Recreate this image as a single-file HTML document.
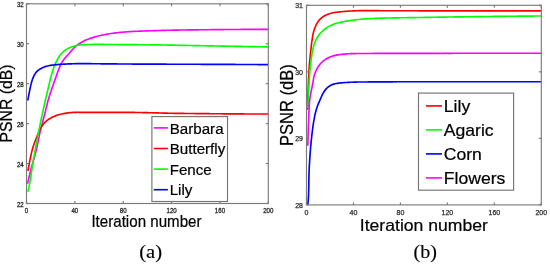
<!DOCTYPE html>
<html><head><meta charset="utf-8"><style>
html,body{margin:0;padding:0;background:#fff;}
svg{display:block;filter:blur(0.3px);}
.tk{font-family:"Liberation Sans",Arial,sans-serif;fill:#2a2a2a;stroke:#2a2a2a;stroke-width:0.3px;}
.tk2{font-family:"Liberation Sans",Arial,sans-serif;fill:#2a2a2a;stroke:#2a2a2a;stroke-width:0.25px;}
.lg{font-family:"Liberation Sans",Arial,sans-serif;fill:#000;stroke:#000;stroke-width:0.2px;}
.al{font-family:"Liberation Sans",Arial,sans-serif;fill:#000;stroke:#000;stroke-width:0.2px;}
.cap{font-family:"Liberation Serif","Times New Roman",serif;fill:#000;stroke:#000;stroke-width:0.15px;}
</style></head><body>
<svg width="550" height="265" viewBox="0 0 550 265">
<rect width="550" height="265" fill="#fff"/>
<defs><clipPath id="cl"><rect x="26.5" y="3.8" width="241.8" height="199.7"/></clipPath><clipPath id="cr"><rect x="306.5" y="5.3" width="234.79999999999995" height="199.6"/></clipPath></defs>
<path d="M27.50,183.80 L27.73,182.78 L28.06,181.35 L28.39,179.90 L28.73,178.44 L29.08,176.98 L29.43,175.53 L29.79,174.07 L30.14,172.62 L30.51,171.16 L30.88,169.71 L31.26,168.26 L31.65,166.81 L32.05,165.37 L32.46,163.93 L32.87,162.48 L33.15,161.52 L33.43,160.56 L33.84,159.12 L34.26,157.68 L34.66,156.24 L35.06,154.79 L35.45,153.34 L35.82,151.89 L36.19,150.44 L36.53,148.98 L36.86,147.52 L37.18,146.06 L37.48,144.59 L37.78,143.12 L38.08,141.65 L38.27,140.67 L38.47,139.69 L38.66,138.71 L38.85,137.73 L39.15,136.26 L39.45,134.79 L39.76,133.32 L40.08,131.86 L40.41,130.40 L40.76,128.94 L41.13,127.49 L41.50,126.04 L41.89,124.59 L42.29,123.15 L42.68,121.70 L43.08,120.25 L43.48,118.81 L43.87,117.36 L44.26,115.91 L44.63,114.46 L44.99,113.01 L45.35,111.55 L45.58,110.57 L45.81,109.60 L46.04,108.63 L46.27,107.65 L46.61,106.20 L46.97,104.74 L47.33,103.28 L47.71,101.84 L48.10,100.39 L48.52,98.95 L48.95,97.52 L49.41,96.09 L49.88,94.67 L50.35,93.25 L50.68,92.30 L51.00,91.35 L51.48,89.93 L51.96,88.51 L52.44,87.09 L52.92,85.67 L53.41,84.26 L53.89,82.84 L54.39,81.42 L54.88,80.01 L55.39,78.60 L55.72,77.65 L56.06,76.71 L56.39,75.76 L56.72,74.82 L57.05,73.87 L57.39,72.92 L57.73,71.98 L58.07,71.03 L58.42,70.10 L58.96,68.70 L59.53,67.32 L60.13,65.95 L60.77,64.61 L61.46,63.28 L61.95,62.41 L62.47,61.55 L63.00,60.70 L63.56,59.87 L64.44,58.66 L65.38,57.51 L66.39,56.41 L67.08,55.68 L67.77,54.96 L68.46,54.22 L69.12,53.47 L69.77,52.71 L70.41,51.95 L71.38,50.80 L72.37,49.68 L73.05,48.94 L73.75,48.22 L74.46,47.51 L75.18,46.83 L76.31,45.85 L77.48,44.93 L78.69,44.06 L79.53,43.50 L80.37,42.96 L81.24,42.43 L82.11,41.93 L82.99,41.44 L83.88,40.98 L85.22,40.33 L86.59,39.73 L87.97,39.18 L89.37,38.66 L90.32,38.33 L91.27,38.01 L92.23,37.71 L93.19,37.42 L94.15,37.13 L95.11,36.85 L96.56,36.46 L98.01,36.07 L99.46,35.71 L100.44,35.48 L101.41,35.25 L102.39,35.04 L103.86,34.73 L105.33,34.45 L106.80,34.18 L108.28,33.94 L109.76,33.70 L111.24,33.48 L112.73,33.27 L114.21,33.08 L115.70,32.89 L117.19,32.70 L118.68,32.53 L120.17,32.37 L121.66,32.22 L123.15,32.09 L124.65,31.98 L126.14,31.87 L127.64,31.76 L129.13,31.67 L130.63,31.58 L132.13,31.50 L133.62,31.42 L135.12,31.34 L136.62,31.27 L138.12,31.21 L139.61,31.15 L141.11,31.09 L142.61,31.03 L144.11,30.98 L145.60,30.92 L147.10,30.87 L148.60,30.82 L150.10,30.78 L151.60,30.73 L153.10,30.69 L154.59,30.64 L156.09,30.60 L157.59,30.55 L159.09,30.51 L160.59,30.47 L162.09,30.43 L163.58,30.38 L165.08,30.34 L166.58,30.30 L168.08,30.27 L169.58,30.23 L171.08,30.20 L172.57,30.17 L174.07,30.14 L175.57,30.11 L177.07,30.08 L178.57,30.06 L180.07,30.04 L181.57,30.01 L183.07,29.99 L184.56,29.97 L186.06,29.95 L187.56,29.94 L189.06,29.92 L190.56,29.90 L192.06,29.88 L193.56,29.87 L195.06,29.85 L196.55,29.84 L198.05,29.82 L199.55,29.80 L201.05,29.79 L202.55,29.77 L204.05,29.76 L205.55,29.74 L207.05,29.73 L208.55,29.71 L210.04,29.70 L211.54,29.68 L213.04,29.67 L214.54,29.65 L216.04,29.64 L217.54,29.62 L219.04,29.61 L220.54,29.59 L222.03,29.58 L223.53,29.57 L225.03,29.55 L226.53,29.54 L228.03,29.53 L229.53,29.52 L231.03,29.51 L232.53,29.49 L234.03,29.48 L235.52,29.48 L237.02,29.47 L238.52,29.46 L240.02,29.45 L241.52,29.44 L243.02,29.44 L244.52,29.43 L246.02,29.42 L247.52,29.41 L249.01,29.41 L250.51,29.40 L252.01,29.40 L253.51,29.39 L255.01,29.38 L256.51,29.38 L258.01,29.37 L259.51,29.37 L261.01,29.36 L262.50,29.36 L264.00,29.36 L265.49,29.35 L266.95,29.35 L268.00,29.35" stroke="#ff00ff" stroke-width="1.65" fill="none" stroke-linejoin="round" clip-path="url(#cl)"/>
<path d="M27.90,171.00 L28.08,169.97 L28.35,168.52 L28.62,167.06 L28.90,165.59 L29.18,164.12 L29.47,162.65 L29.76,161.18 L30.06,159.71 L30.26,158.73 L30.46,157.75 L30.66,156.76 L30.86,155.78 L31.07,154.80 L31.29,153.83 L31.62,152.37 L31.98,150.91 L32.36,149.47 L32.77,148.03 L33.21,146.60 L33.68,145.18 L34.00,144.23 L34.34,143.28 L34.68,142.34 L35.02,141.40 L35.37,140.46 L35.73,139.52 L36.09,138.59 L36.45,137.66 L36.82,136.72 L37.18,135.79 L37.56,134.86 L37.93,133.94 L38.32,133.01 L38.72,132.10 L39.36,130.74 L39.80,129.84 L40.27,128.95 L40.76,128.06 L41.27,127.18 L41.79,126.31 L42.35,125.47 L43.22,124.26 L44.16,123.14 L45.18,122.10 L46.28,121.10 L47.06,120.47 L47.88,119.86 L48.72,119.27 L49.58,118.71 L50.45,118.18 L51.33,117.69 L52.67,117.02 L54.02,116.43 L55.40,115.88 L56.81,115.38 L57.76,115.06 L58.73,114.76 L59.70,114.48 L60.68,114.22 L61.66,113.98 L62.65,113.77 L63.63,113.58 L65.10,113.34 L66.58,113.12 L68.07,112.92 L69.06,112.80 L70.06,112.68 L71.06,112.58 L72.06,112.49 L73.06,112.42 L74.06,112.37 L75.06,112.33 L76.56,112.31 L78.05,112.30 L79.55,112.30 L81.05,112.30 L82.05,112.30 L83.05,112.30 L84.05,112.30 L85.05,112.30 L86.05,112.30 L87.55,112.30 L89.05,112.30 L90.55,112.30 L92.05,112.30 L93.55,112.30 L95.05,112.31 L96.55,112.31 L98.05,112.31 L99.55,112.31 L101.05,112.31 L102.55,112.32 L104.05,112.32 L105.55,112.32 L107.05,112.33 L108.55,112.33 L110.05,112.33 L111.55,112.34 L113.05,112.34 L114.55,112.35 L116.05,112.35 L117.55,112.35 L119.05,112.36 L120.55,112.36 L122.05,112.37 L123.55,112.38 L125.05,112.38 L126.55,112.39 L128.04,112.39 L129.54,112.40 L131.04,112.41 L132.54,112.42 L134.04,112.43 L135.54,112.45 L137.04,112.47 L138.54,112.49 L140.04,112.51 L141.54,112.54 L143.04,112.57 L144.54,112.60 L146.04,112.64 L147.54,112.67 L149.04,112.71 L150.54,112.74 L152.03,112.78 L153.53,112.82 L155.03,112.86 L156.53,112.90 L158.03,112.94 L159.53,112.98 L161.03,113.02 L162.53,113.06 L164.03,113.09 L165.53,113.13 L167.03,113.17 L168.53,113.20 L170.03,113.23 L171.53,113.27 L173.03,113.29 L174.52,113.32 L176.02,113.35 L177.52,113.37 L179.02,113.39 L180.52,113.41 L182.02,113.42 L183.52,113.44 L185.02,113.45 L186.52,113.47 L188.02,113.48 L189.52,113.50 L191.02,113.52 L192.52,113.53 L194.02,113.55 L195.52,113.56 L197.02,113.58 L198.52,113.59 L200.02,113.61 L201.52,113.62 L203.01,113.64 L204.51,113.65 L206.01,113.66 L207.51,113.68 L209.01,113.69 L210.51,113.70 L212.01,113.72 L213.51,113.73 L215.01,113.74 L216.51,113.76 L218.01,113.77 L219.51,113.78 L221.01,113.79 L222.51,113.81 L224.01,113.82 L225.51,113.83 L227.01,113.84 L228.51,113.85 L230.01,113.86 L231.51,113.87 L233.01,113.88 L234.51,113.89 L236.01,113.90 L237.51,113.91 L239.01,113.92 L240.50,113.92 L242.00,113.93 L243.50,113.94 L245.00,113.95 L246.50,113.95 L248.00,113.96 L249.50,113.96 L251.00,113.97 L252.50,113.97 L254.00,113.98 L255.50,113.98 L257.00,113.99 L258.50,113.99 L260.00,113.99 L261.50,114.00 L263.00,114.00 L264.50,114.00 L265.97,114.00 L267.46,114.00 L268.00,114.00" stroke="#ff0000" stroke-width="1.65" fill="none" stroke-linejoin="round" clip-path="url(#cl)"/>
<path d="M27.80,191.70 L28.09,190.69 L28.48,189.28 L28.82,187.83 L29.13,186.37 L29.41,184.90 L29.68,183.43 L29.93,181.95 L30.18,180.47 L30.33,179.48 L30.48,178.50 L30.64,177.51 L30.79,176.52 L30.93,175.53 L31.08,174.54 L31.24,173.55 L31.39,172.56 L31.55,171.57 L31.71,170.58 L31.95,169.10 L32.20,167.62 L32.45,166.14 L32.69,164.66 L32.94,163.19 L33.19,161.71 L33.43,160.23 L33.68,158.75 L33.93,157.27 L34.19,155.79 L34.44,154.31 L34.70,152.84 L34.96,151.36 L35.22,149.88 L35.49,148.41 L35.76,146.93 L36.03,145.46 L36.30,143.98 L36.58,142.51 L36.85,141.04 L37.13,139.56 L37.41,138.09 L37.70,136.62 L37.98,135.15 L38.27,133.67 L38.56,132.20 L38.85,130.73 L39.15,129.26 L39.45,127.79 L39.74,126.32 L40.04,124.85 L40.34,123.38 L40.65,121.92 L40.95,120.45 L41.26,118.98 L41.57,117.51 L41.88,116.05 L42.19,114.58 L42.51,113.11 L42.82,111.65 L43.14,110.18 L43.46,108.72 L43.78,107.25 L44.10,105.79 L44.43,104.32 L44.76,102.86 L45.09,101.40 L45.42,99.93 L45.75,98.47 L46.10,97.01 L46.44,95.55 L46.79,94.10 L47.14,92.64 L47.50,91.18 L47.85,89.72 L48.20,88.27 L48.54,86.81 L48.77,85.83 L48.99,84.86 L49.21,83.88 L49.43,82.90 L49.65,81.93 L49.99,80.47 L50.35,79.01 L50.72,77.56 L50.98,76.60 L51.24,75.63 L51.51,74.66 L51.79,73.70 L52.07,72.74 L52.35,71.77 L52.65,70.82 L52.95,69.86 L53.26,68.91 L53.75,67.49 L54.26,66.09 L54.81,64.70 L55.40,63.33 L55.82,62.42 L56.26,61.52 L56.72,60.63 L57.20,59.75 L57.69,58.88 L58.20,58.02 L58.73,57.16 L59.28,56.32 L59.86,55.51 L60.78,54.33 L61.77,53.22 L62.47,52.50 L63.21,51.81 L63.97,51.14 L64.75,50.51 L65.56,49.92 L66.81,49.11 L68.10,48.40 L69.46,47.75 L70.38,47.35 L71.32,46.98 L72.28,46.66 L73.24,46.36 L74.68,45.99 L76.14,45.67 L77.12,45.47 L78.11,45.30 L79.10,45.13 L80.10,45.00 L81.09,44.88 L82.09,44.79 L83.58,44.69 L85.08,44.63 L86.57,44.57 L88.07,44.52 L89.07,44.50 L90.07,44.47 L91.07,44.45 L92.07,44.44 L93.08,44.42 L94.08,44.41 L95.08,44.41 L96.08,44.40 L97.58,44.40 L99.08,44.41 L100.58,44.42 L102.08,44.43 L103.57,44.44 L105.07,44.46 L106.57,44.47 L108.07,44.48 L109.57,44.50 L111.07,44.51 L112.57,44.52 L114.07,44.53 L115.57,44.54 L117.07,44.55 L118.57,44.56 L120.07,44.57 L121.57,44.58 L123.07,44.59 L124.57,44.60 L126.07,44.61 L127.57,44.62 L129.07,44.63 L130.57,44.64 L132.07,44.65 L133.56,44.66 L135.06,44.67 L136.56,44.68 L138.06,44.69 L139.56,44.70 L141.06,44.72 L142.56,44.73 L144.06,44.74 L145.56,44.76 L147.06,44.77 L148.56,44.79 L150.06,44.80 L151.56,44.82 L153.06,44.84 L154.56,44.85 L156.06,44.87 L157.55,44.90 L159.05,44.92 L160.55,44.94 L162.05,44.97 L163.55,44.99 L165.05,45.02 L166.55,45.04 L168.05,45.07 L169.55,45.10 L171.05,45.13 L172.55,45.16 L174.05,45.18 L175.55,45.21 L177.05,45.24 L178.54,45.28 L180.04,45.31 L181.54,45.34 L183.04,45.37 L184.54,45.40 L186.04,45.43 L187.54,45.46 L189.04,45.49 L190.54,45.52 L192.04,45.55 L193.54,45.58 L195.04,45.61 L196.54,45.64 L198.03,45.66 L199.53,45.69 L201.03,45.72 L202.53,45.75 L204.03,45.77 L205.53,45.80 L207.03,45.83 L208.53,45.85 L210.03,45.88 L211.53,45.91 L213.03,45.93 L214.53,45.96 L216.03,45.99 L217.52,46.01 L219.02,46.04 L220.52,46.06 L222.02,46.09 L223.52,46.12 L225.02,46.14 L226.52,46.17 L228.02,46.20 L229.52,46.22 L231.02,46.25 L232.52,46.28 L234.02,46.30 L235.52,46.33 L237.02,46.36 L238.51,46.38 L240.01,46.41 L241.51,46.44 L243.01,46.46 L244.51,46.49 L246.01,46.51 L247.51,46.54 L249.01,46.57 L250.51,46.59 L252.01,46.62 L253.51,46.65 L255.01,46.67 L256.51,46.70 L258.00,46.73 L259.50,46.75 L261.00,46.78 L262.50,46.80 L264.00,46.83 L265.49,46.86 L266.95,46.88 L268.00,46.90" stroke="#00ff00" stroke-width="1.65" fill="none" stroke-linejoin="round" clip-path="url(#cl)"/>
<path d="M27.70,100.50 L27.90,99.47 L28.17,98.03 L28.46,96.58 L28.75,95.11 L29.04,93.64 L29.34,92.18 L29.64,90.71 L29.93,89.24 L30.23,87.77 L30.55,86.31 L30.88,84.85 L31.25,83.39 L31.51,82.43 L31.78,81.46 L32.08,80.50 L32.39,79.55 L32.91,78.15 L33.49,76.78 L33.92,75.87 L34.39,74.97 L34.90,74.09 L35.45,73.24 L36.34,72.06 L37.35,71.02 L38.49,70.12 L39.75,69.31 L40.62,68.79 L41.50,68.29 L42.37,67.80 L43.70,67.15 L45.09,66.63 L46.53,66.21 L47.51,65.96 L48.49,65.75 L49.48,65.56 L50.47,65.40 L51.95,65.18 L53.43,65.00 L54.92,64.83 L56.41,64.68 L57.40,64.59 L58.40,64.50 L59.40,64.42 L60.40,64.35 L61.40,64.28 L62.39,64.22 L63.89,64.14 L65.39,64.07 L66.88,64.00 L68.38,63.94 L69.87,63.88 L71.37,63.82 L72.87,63.77 L74.36,63.72 L75.86,63.68 L77.36,63.65 L78.86,63.63 L80.35,63.61 L81.85,63.60 L83.35,63.61 L84.84,63.61 L86.34,63.62 L87.84,63.64 L89.34,63.66 L90.83,63.68 L92.33,63.70 L93.83,63.72 L95.32,63.74 L96.82,63.76 L98.32,63.78 L99.82,63.80 L101.31,63.81 L102.81,63.83 L104.31,63.84 L105.80,63.85 L107.30,63.87 L108.80,63.88 L110.30,63.89 L111.79,63.90 L113.29,63.92 L114.79,63.93 L116.28,63.94 L117.78,63.95 L119.28,63.97 L120.78,63.98 L122.27,63.99 L123.77,64.00 L125.27,64.01 L126.76,64.02 L128.26,64.03 L129.76,64.04 L131.26,64.05 L132.75,64.06 L134.25,64.07 L135.75,64.08 L137.24,64.09 L138.74,64.09 L140.24,64.10 L141.74,64.11 L143.23,64.11 L144.73,64.12 L146.23,64.13 L147.73,64.13 L149.22,64.14 L150.72,64.15 L152.22,64.15 L153.71,64.16 L155.21,64.16 L156.71,64.17 L158.21,64.17 L159.70,64.18 L161.20,64.18 L162.70,64.19 L164.19,64.19 L165.69,64.19 L167.19,64.20 L168.69,64.20 L170.18,64.21 L171.68,64.21 L173.18,64.22 L174.67,64.22 L176.17,64.22 L177.67,64.23 L179.17,64.23 L180.66,64.24 L182.16,64.24 L183.66,64.25 L185.16,64.25 L186.65,64.26 L188.15,64.26 L189.65,64.26 L191.14,64.27 L192.64,64.27 L194.14,64.28 L195.64,64.28 L197.13,64.29 L198.63,64.29 L200.13,64.30 L201.62,64.31 L203.12,64.31 L204.62,64.32 L206.12,64.32 L207.61,64.33 L209.11,64.34 L210.61,64.34 L212.10,64.35 L213.60,64.35 L215.10,64.36 L216.60,64.37 L218.09,64.37 L219.59,64.38 L221.09,64.38 L222.59,64.39 L224.08,64.40 L225.58,64.40 L227.08,64.41 L228.57,64.42 L230.07,64.42 L231.57,64.43 L233.07,64.44 L234.56,64.44 L236.06,64.45 L237.56,64.46 L239.05,64.46 L240.55,64.47 L242.05,64.48 L243.55,64.48 L245.04,64.49 L246.54,64.50 L248.04,64.50 L249.53,64.51 L251.03,64.52 L252.53,64.52 L254.03,64.53 L255.52,64.54 L257.02,64.55 L258.52,64.55 L260.01,64.56 L261.51,64.57 L263.01,64.58 L264.50,64.58 L265.98,64.59 L267.46,64.60 L268.00,64.60" stroke="#0000ff" stroke-width="1.65" fill="none" stroke-linejoin="round" clip-path="url(#cl)"/>
<rect x="26.5" y="3.8" width="241.80" height="199.70" fill="none" stroke="#7a7a7a" stroke-width="1.15"/>
<line x1="26.50" y1="203.5" x2="26.50" y2="201.0" stroke="#7a7a7a" stroke-width="1.15"/>
<line x1="26.50" y1="3.8" x2="26.50" y2="6.3" stroke="#7a7a7a" stroke-width="1.15"/>
<line x1="74.86" y1="203.5" x2="74.86" y2="201.0" stroke="#7a7a7a" stroke-width="1.15"/>
<line x1="74.86" y1="3.8" x2="74.86" y2="6.3" stroke="#7a7a7a" stroke-width="1.15"/>
<line x1="123.22" y1="203.5" x2="123.22" y2="201.0" stroke="#7a7a7a" stroke-width="1.15"/>
<line x1="123.22" y1="3.8" x2="123.22" y2="6.3" stroke="#7a7a7a" stroke-width="1.15"/>
<line x1="171.58" y1="203.5" x2="171.58" y2="201.0" stroke="#7a7a7a" stroke-width="1.15"/>
<line x1="171.58" y1="3.8" x2="171.58" y2="6.3" stroke="#7a7a7a" stroke-width="1.15"/>
<line x1="219.94" y1="203.5" x2="219.94" y2="201.0" stroke="#7a7a7a" stroke-width="1.15"/>
<line x1="219.94" y1="3.8" x2="219.94" y2="6.3" stroke="#7a7a7a" stroke-width="1.15"/>
<line x1="268.30" y1="203.5" x2="268.30" y2="201.0" stroke="#7a7a7a" stroke-width="1.15"/>
<line x1="268.30" y1="3.8" x2="268.30" y2="6.3" stroke="#7a7a7a" stroke-width="1.15"/>
<line x1="26.5" y1="203.50" x2="29.0" y2="203.50" stroke="#7a7a7a" stroke-width="1.15"/>
<line x1="268.3" y1="203.50" x2="265.8" y2="203.50" stroke="#7a7a7a" stroke-width="1.15"/>
<line x1="26.5" y1="163.56" x2="29.0" y2="163.56" stroke="#7a7a7a" stroke-width="1.15"/>
<line x1="268.3" y1="163.56" x2="265.8" y2="163.56" stroke="#7a7a7a" stroke-width="1.15"/>
<line x1="26.5" y1="123.62" x2="29.0" y2="123.62" stroke="#7a7a7a" stroke-width="1.15"/>
<line x1="268.3" y1="123.62" x2="265.8" y2="123.62" stroke="#7a7a7a" stroke-width="1.15"/>
<line x1="26.5" y1="83.68" x2="29.0" y2="83.68" stroke="#7a7a7a" stroke-width="1.15"/>
<line x1="268.3" y1="83.68" x2="265.8" y2="83.68" stroke="#7a7a7a" stroke-width="1.15"/>
<line x1="26.5" y1="43.74" x2="29.0" y2="43.74" stroke="#7a7a7a" stroke-width="1.15"/>
<line x1="268.3" y1="43.74" x2="265.8" y2="43.74" stroke="#7a7a7a" stroke-width="1.15"/>
<line x1="26.5" y1="3.80" x2="29.0" y2="3.80" stroke="#7a7a7a" stroke-width="1.15"/>
<line x1="268.3" y1="3.80" x2="265.8" y2="3.80" stroke="#7a7a7a" stroke-width="1.15"/>
<text transform="translate(26.50,213.40) scale(0.9,1)" text-anchor="middle" class="tk" font-size="6.8">0</text>
<text transform="translate(74.86,213.40) scale(0.9,1)" text-anchor="middle" class="tk" font-size="6.8">40</text>
<text transform="translate(123.22,213.40) scale(0.9,1)" text-anchor="middle" class="tk" font-size="6.8">80</text>
<text transform="translate(171.58,213.40) scale(0.9,1)" text-anchor="middle" class="tk" font-size="6.8">120</text>
<text transform="translate(219.94,213.40) scale(0.9,1)" text-anchor="middle" class="tk" font-size="6.8">160</text>
<text transform="translate(268.30,213.40) scale(0.9,1)" text-anchor="middle" class="tk" font-size="6.8">200</text>
<text transform="translate(23.70,206.80) scale(0.9,1)" text-anchor="end" class="tk" font-size="6.8">22</text>
<text transform="translate(23.70,166.86) scale(0.9,1)" text-anchor="end" class="tk" font-size="6.8">24</text>
<text transform="translate(23.70,126.92) scale(0.9,1)" text-anchor="end" class="tk" font-size="6.8">26</text>
<text transform="translate(23.70,86.98) scale(0.9,1)" text-anchor="end" class="tk" font-size="6.8">28</text>
<text transform="translate(23.70,47.04) scale(0.9,1)" text-anchor="end" class="tk" font-size="6.8">30</text>
<text transform="translate(23.70,7.10) scale(0.9,1)" text-anchor="end" class="tk" font-size="6.8">32</text>
<rect x="151.9" y="116.6" width="75.6" height="84.9" fill="#fff" stroke="#747474" stroke-width="1.15"/>
<line x1="153.7" y1="127.90" x2="167.9" y2="127.90" stroke="#ff00ff" stroke-width="1.6"/>
<text transform="translate(169.70,133.60) scale(1.01,1)" class="lg" font-size="15">Barbara</text>
<line x1="153.7" y1="148.50" x2="167.9" y2="148.50" stroke="#ff0000" stroke-width="1.6"/>
<text transform="translate(169.70,154.20) scale(1.01,1)" class="lg" font-size="15">Butterfly</text>
<line x1="153.7" y1="169.10" x2="167.9" y2="169.10" stroke="#00ff00" stroke-width="1.6"/>
<text transform="translate(169.70,174.80) scale(1.01,1)" class="lg" font-size="15">Fence</text>
<line x1="153.7" y1="189.70" x2="167.9" y2="189.70" stroke="#0000ff" stroke-width="1.6"/>
<text transform="translate(169.70,195.40) scale(1.01,1)" class="lg" font-size="15">Lily</text>
<path d="M307.50,109.80 L307.53,108.75 L307.57,107.29 L307.61,105.80 L307.65,104.30 L307.70,102.80 L307.74,101.31 L307.79,99.81 L307.84,98.31 L307.89,96.81 L307.94,95.31 L307.99,93.81 L308.04,92.31 L308.10,90.81 L308.15,89.32 L308.21,87.82 L308.26,86.32 L308.32,84.82 L308.38,83.32 L308.44,81.82 L308.50,80.32 L308.56,78.83 L308.63,77.33 L308.70,75.83 L308.77,74.33 L308.84,72.83 L308.93,71.34 L309.01,69.84 L309.11,68.35 L309.22,66.85 L309.34,65.35 L309.46,63.86 L309.59,62.37 L309.72,60.87 L309.86,59.38 L310.00,57.89 L310.14,56.39 L310.29,54.90 L310.45,53.41 L310.61,51.92 L310.78,50.43 L310.95,48.94 L311.12,47.45 L311.30,45.96 L311.49,44.47 L311.68,42.98 L311.87,41.50 L312.01,40.51 L312.14,39.51 L312.28,38.52 L312.42,37.53 L312.65,36.05 L312.92,34.58 L313.23,33.11 L313.61,31.67 L314.05,30.23 L314.53,28.81 L314.89,27.87 L315.26,26.95 L315.65,26.03 L316.07,25.12 L316.51,24.22 L316.99,23.34 L317.76,22.06 L318.63,20.85 L319.27,20.07 L319.95,19.32 L320.66,18.61 L321.79,17.63 L322.98,16.75 L324.25,15.98 L325.13,15.51 L326.04,15.07 L326.96,14.66 L327.89,14.27 L328.82,13.91 L330.25,13.44 L331.69,13.06 L333.16,12.77 L334.64,12.53 L335.63,12.40 L336.62,12.27 L337.62,12.15 L338.61,12.03 L340.10,11.87 L341.59,11.71 L342.59,11.61 L343.58,11.52 L344.58,11.43 L345.58,11.35 L347.07,11.23 L348.57,11.13 L350.07,11.04 L351.56,10.96 L353.06,10.88 L354.56,10.81 L356.06,10.76 L357.56,10.72 L359.06,10.68 L360.55,10.66 L362.05,10.64 L363.55,10.62 L365.05,10.61 L366.55,10.60 L368.05,10.60 L369.55,10.61 L371.05,10.62 L372.55,10.63 L374.05,10.65 L375.55,10.66 L377.05,10.68 L378.55,10.69 L380.05,10.70 L381.55,10.71 L383.05,10.71 L384.55,10.72 L386.05,10.72 L387.55,10.73 L389.05,10.73 L390.55,10.74 L392.04,10.74 L393.54,10.75 L395.04,10.75 L396.54,10.76 L398.04,10.76 L399.54,10.76 L401.04,10.77 L402.54,10.77 L404.04,10.77 L405.54,10.78 L407.04,10.78 L408.54,10.78 L410.04,10.78 L411.54,10.79 L413.04,10.79 L414.54,10.79 L416.04,10.79 L417.54,10.80 L419.04,10.80 L420.54,10.80 L422.04,10.80 L423.54,10.80 L425.03,10.81 L426.53,10.81 L428.03,10.81 L429.53,10.81 L431.03,10.81 L432.53,10.82 L434.03,10.82 L435.53,10.82 L437.03,10.82 L438.53,10.82 L440.03,10.83 L441.53,10.83 L443.03,10.83 L444.53,10.83 L446.03,10.83 L447.53,10.84 L449.03,10.84 L450.53,10.84 L452.03,10.84 L453.53,10.84 L455.03,10.84 L456.53,10.85 L458.02,10.85 L459.52,10.85 L461.02,10.85 L462.52,10.85 L464.02,10.85 L465.52,10.86 L467.02,10.86 L468.52,10.86 L470.02,10.86 L471.52,10.86 L473.02,10.86 L474.52,10.86 L476.02,10.87 L477.52,10.87 L479.02,10.87 L480.52,10.87 L482.02,10.87 L483.52,10.87 L485.02,10.87 L486.52,10.88 L488.02,10.88 L489.52,10.88 L491.01,10.88 L492.51,10.88 L494.01,10.88 L495.51,10.88 L497.01,10.88 L498.51,10.88 L500.01,10.89 L501.51,10.89 L503.01,10.89 L504.51,10.89 L506.01,10.89 L507.51,10.89 L509.01,10.89 L510.51,10.89 L512.01,10.89 L513.51,10.89 L515.01,10.89 L516.51,10.89 L518.01,10.90 L519.51,10.90 L521.01,10.90 L522.51,10.90 L524.01,10.90 L525.50,10.90 L527.00,10.90 L528.50,10.90 L530.00,10.90 L531.50,10.90 L533.00,10.90 L534.50,10.90 L536.00,10.90 L537.50,10.90 L538.99,10.90 L540.45,10.90 L541.50,10.90" stroke="#ff0000" stroke-width="1.65" fill="none" stroke-linejoin="round" clip-path="url(#cr)"/>
<path d="M307.80,108.00 L307.84,106.95 L307.91,105.49 L307.97,104.00 L308.04,102.51 L308.11,101.01 L308.19,99.51 L308.26,98.01 L308.34,96.51 L308.41,95.02 L308.49,93.52 L308.58,92.02 L308.66,90.52 L308.74,89.03 L308.83,87.53 L308.91,86.03 L308.97,85.03 L309.03,84.03 L309.09,83.04 L309.15,82.04 L309.21,81.04 L309.27,80.04 L309.34,79.04 L309.40,78.04 L309.47,77.05 L309.57,75.55 L309.68,74.05 L309.79,72.56 L309.91,71.06 L310.04,69.57 L310.18,68.08 L310.28,67.08 L310.38,66.09 L310.48,65.09 L310.60,64.10 L310.71,63.10 L310.89,61.62 L311.09,60.13 L311.22,59.14 L311.36,58.14 L311.50,57.15 L311.65,56.16 L311.80,55.16 L311.96,54.17 L312.13,53.18 L312.30,52.19 L312.49,51.21 L312.78,49.74 L313.11,48.29 L313.47,46.84 L313.88,45.41 L314.35,43.99 L314.70,43.04 L315.07,42.11 L315.46,41.18 L315.87,40.26 L316.30,39.36 L316.98,38.02 L317.72,36.72 L318.54,35.47 L319.46,34.29 L320.45,33.17 L321.15,32.46 L321.87,31.76 L322.61,31.07 L323.35,30.40 L324.11,29.74 L324.88,29.10 L326.07,28.19 L327.31,27.36 L328.59,26.60 L329.47,26.12 L330.37,25.67 L331.28,25.25 L332.20,24.86 L333.59,24.31 L335.01,23.81 L335.96,23.51 L336.92,23.22 L338.36,22.82 L339.82,22.46 L341.28,22.13 L342.26,21.92 L343.24,21.72 L344.22,21.53 L345.21,21.35 L346.68,21.09 L348.16,20.84 L349.15,20.68 L350.14,20.53 L351.13,20.38 L352.12,20.25 L353.61,20.05 L355.10,19.88 L356.59,19.71 L358.08,19.55 L359.07,19.45 L360.07,19.36 L361.07,19.26 L362.06,19.17 L363.06,19.09 L364.06,19.01 L365.55,18.90 L367.05,18.80 L368.54,18.71 L370.04,18.62 L371.54,18.54 L372.54,18.49 L373.54,18.45 L374.54,18.40 L375.53,18.36 L376.53,18.32 L377.53,18.28 L379.03,18.23 L380.53,18.19 L382.03,18.15 L383.53,18.11 L385.03,18.07 L386.53,18.04 L388.03,18.01 L389.53,17.98 L391.03,17.95 L392.53,17.92 L394.03,17.89 L395.53,17.87 L397.02,17.84 L398.52,17.82 L400.02,17.80 L401.52,17.78 L402.52,17.76 L403.52,17.75 L404.52,17.73 L405.52,17.72 L406.52,17.70 L407.52,17.69 L408.52,17.67 L409.52,17.66 L410.52,17.65 L411.52,17.63 L412.52,17.62 L414.02,17.59 L415.52,17.57 L417.02,17.55 L418.52,17.52 L420.02,17.50 L421.52,17.47 L423.02,17.45 L424.52,17.42 L426.02,17.40 L427.52,17.37 L429.02,17.34 L430.52,17.32 L432.02,17.29 L433.52,17.26 L435.02,17.24 L436.52,17.21 L438.02,17.19 L439.52,17.16 L441.02,17.14 L442.52,17.11 L444.02,17.09 L445.52,17.07 L447.02,17.04 L448.52,17.02 L450.01,17.00 L451.51,16.98 L453.01,16.96 L454.51,16.94 L456.01,16.92 L457.51,16.90 L459.01,16.88 L460.51,16.86 L462.01,16.84 L463.51,16.82 L465.01,16.80 L466.51,16.78 L468.01,16.76 L469.51,16.74 L471.01,16.72 L472.51,16.70 L474.01,16.68 L475.51,16.66 L477.01,16.64 L478.51,16.62 L480.01,16.61 L481.51,16.59 L483.01,16.57 L484.51,16.55 L486.01,16.53 L487.51,16.52 L489.01,16.50 L490.51,16.48 L492.01,16.46 L493.51,16.44 L495.01,16.43 L496.51,16.41 L498.01,16.39 L499.51,16.38 L501.01,16.36 L502.51,16.34 L504.00,16.33 L505.50,16.31 L507.00,16.30 L508.50,16.28 L510.00,16.27 L511.50,16.25 L513.00,16.24 L514.50,16.22 L516.00,16.21 L517.50,16.19 L519.00,16.18 L520.50,16.17 L522.00,16.15 L523.50,16.14 L525.00,16.13 L526.50,16.11 L528.00,16.10 L529.50,16.09 L531.00,16.08 L532.50,16.06 L534.00,16.05 L535.50,16.04 L537.00,16.03 L538.49,16.02 L539.96,16.01 L541.50,16.00" stroke="#00ff00" stroke-width="1.65" fill="none" stroke-linejoin="round" clip-path="url(#cr)"/>
<path d="M307.70,206.00 L307.80,204.95 L307.94,203.49 L308.07,202.01 L308.20,200.52 L308.28,199.52 L308.38,198.03 L308.48,196.53 L308.55,195.03 L308.61,193.53 L308.66,192.04 L308.69,190.54 L308.73,189.04 L308.75,187.54 L308.77,186.54 L308.79,185.54 L308.80,184.54 L308.82,183.54 L308.83,182.54 L308.85,181.54 L308.86,180.54 L308.88,179.54 L308.90,178.54 L308.92,177.54 L308.95,176.04 L308.99,174.54 L309.03,173.04 L309.09,171.54 L309.15,170.04 L309.21,168.54 L309.26,167.55 L309.31,166.55 L309.36,165.55 L309.42,164.55 L309.48,163.55 L309.54,162.55 L309.60,161.55 L309.66,160.56 L309.72,159.56 L309.79,158.56 L309.89,157.06 L309.99,155.57 L310.10,154.07 L310.21,152.58 L310.32,151.08 L310.40,150.08 L310.48,149.09 L310.56,148.09 L310.65,147.09 L310.74,146.10 L310.83,145.10 L310.92,144.10 L311.02,143.11 L311.12,142.11 L311.22,141.12 L311.32,140.12 L311.43,139.13 L311.59,137.64 L311.76,136.15 L311.93,134.66 L312.10,133.17 L312.22,132.17 L312.34,131.18 L312.47,130.19 L312.59,129.19 L312.72,128.20 L312.86,127.21 L312.99,126.22 L313.14,125.22 L313.28,124.23 L313.43,123.24 L313.59,122.25 L313.75,121.27 L314.00,119.79 L314.26,118.32 L314.54,116.85 L314.84,115.38 L315.17,113.92 L315.41,112.95 L315.66,111.98 L315.92,111.01 L316.20,110.05 L316.48,109.09 L316.78,108.13 L317.25,106.71 L317.76,105.30 L318.31,103.91 L318.69,102.98 L319.09,102.06 L319.49,101.15 L319.89,100.23 L320.29,99.31 L320.69,98.38 L321.09,97.46 L321.49,96.53 L321.90,95.62 L322.33,94.71 L323.02,93.39 L323.77,92.10 L324.31,91.26 L324.89,90.43 L325.51,89.63 L326.16,88.85 L327.20,87.78 L328.32,86.82 L329.54,85.97 L330.40,85.46 L331.30,85.00 L332.23,84.61 L333.64,84.13 L335.07,83.77 L336.54,83.48 L337.53,83.31 L338.53,83.17 L339.53,83.04 L340.53,82.93 L341.53,82.83 L342.53,82.74 L344.02,82.63 L345.52,82.53 L346.52,82.47 L347.52,82.42 L348.52,82.37 L349.52,82.32 L350.51,82.28 L351.51,82.24 L352.51,82.20 L353.51,82.16 L354.51,82.13 L355.51,82.10 L356.51,82.07 L358.01,82.03 L359.51,82.01 L361.01,81.99 L362.51,81.98 L364.01,81.97 L365.51,81.96 L367.01,81.95 L368.51,81.94 L370.01,81.93 L371.51,81.92 L373.01,81.91 L374.51,81.90 L376.01,81.89 L377.51,81.88 L379.01,81.88 L380.51,81.87 L382.01,81.86 L383.51,81.85 L385.01,81.84 L386.51,81.84 L388.00,81.83 L389.50,81.82 L391.00,81.82 L392.50,81.81 L394.00,81.80 L395.50,81.80 L397.00,81.79 L398.50,81.79 L400.00,81.78 L401.50,81.78 L402.50,81.77 L403.50,81.77 L404.50,81.77 L405.50,81.76 L406.50,81.76 L407.50,81.76 L408.50,81.75 L409.50,81.75 L410.50,81.75 L411.50,81.75 L412.50,81.74 L413.50,81.74 L414.50,81.74 L415.50,81.74 L416.50,81.73 L417.50,81.73 L418.50,81.73 L419.50,81.73 L420.50,81.73 L421.50,81.72 L422.50,81.72 L423.50,81.72 L424.51,81.72 L425.51,81.72 L426.51,81.72 L427.51,81.71 L428.51,81.71 L429.51,81.71 L430.51,81.71 L431.51,81.71 L432.51,81.71 L433.51,81.71 L434.51,81.71 L435.51,81.71 L436.51,81.71 L437.51,81.70 L438.51,81.70 L440.01,81.70 L441.51,81.70 L443.01,81.70 L444.51,81.70 L446.01,81.70 L447.51,81.70 L449.01,81.70 L450.50,81.70 L452.00,81.70 L453.50,81.70 L455.00,81.70 L456.50,81.70 L458.00,81.70 L459.50,81.70 L461.00,81.70 L462.50,81.70 L464.00,81.70 L465.50,81.70 L467.00,81.70 L468.50,81.70 L470.00,81.70 L471.50,81.70 L473.00,81.70 L474.50,81.70 L476.00,81.70 L477.50,81.70 L479.00,81.70 L480.50,81.70 L482.00,81.70 L483.50,81.70 L485.00,81.70 L486.50,81.70 L488.00,81.70 L489.50,81.70 L491.00,81.70 L492.50,81.70 L494.00,81.70 L495.50,81.70 L497.00,81.70 L498.50,81.70 L500.00,81.70 L501.50,81.70 L503.00,81.70 L504.50,81.70 L506.00,81.70 L507.50,81.70 L509.00,81.70 L510.50,81.70 L512.00,81.70 L513.50,81.70 L515.00,81.70 L516.50,81.70 L518.00,81.70 L519.50,81.70 L521.00,81.70 L522.50,81.70 L524.00,81.70 L525.50,81.70 L527.00,81.70 L528.50,81.70 L530.00,81.70 L531.50,81.70 L533.00,81.70 L534.50,81.70 L536.00,81.70 L537.50,81.70 L538.98,81.70 L540.45,81.70 L541.50,81.70" stroke="#0000ff" stroke-width="1.65" fill="none" stroke-linejoin="round" clip-path="url(#cr)"/>
<path d="M307.80,145.70 L307.83,144.65 L307.88,143.19 L307.92,141.71 L307.97,140.21 L308.02,138.71 L308.06,137.21 L308.11,135.72 L308.16,134.22 L308.21,132.72 L308.26,131.22 L308.31,129.73 L308.36,128.23 L308.41,126.73 L308.46,125.23 L308.51,123.74 L308.56,122.24 L308.62,120.74 L308.67,119.24 L308.73,117.75 L308.79,116.25 L308.85,114.75 L308.91,113.25 L308.95,112.26 L309.00,111.26 L309.04,110.26 L309.08,109.26 L309.13,108.26 L309.21,106.76 L309.29,105.27 L309.38,103.77 L309.49,102.28 L309.61,100.79 L309.77,99.30 L309.97,97.82 L310.20,96.34 L310.37,95.36 L310.55,94.37 L310.74,93.39 L311.03,91.92 L311.33,90.45 L311.65,88.99 L311.97,87.52 L312.27,86.05 L312.45,85.07 L312.63,84.08 L312.79,83.09 L312.95,82.10 L313.11,81.11 L313.28,80.13 L313.55,78.66 L313.85,77.19 L314.20,75.75 L314.62,74.31 L314.94,73.36 L315.29,72.42 L315.86,71.03 L316.50,69.68 L317.20,68.36 L317.71,67.49 L318.26,66.64 L318.83,65.80 L319.43,65.00 L320.37,63.85 L321.38,62.76 L322.45,61.73 L323.21,61.06 L324.00,60.42 L324.82,59.81 L325.65,59.24 L326.50,58.71 L327.80,58.00 L329.14,57.38 L330.52,56.82 L331.46,56.48 L332.42,56.16 L333.39,55.87 L334.36,55.61 L335.34,55.37 L336.32,55.17 L337.79,54.91 L339.26,54.69 L340.74,54.49 L342.23,54.30 L343.23,54.19 L344.23,54.09 L345.23,54.00 L346.23,53.92 L347.23,53.85 L348.23,53.79 L349.23,53.74 L350.72,53.68 L352.22,53.64 L353.72,53.60 L355.21,53.56 L356.71,53.54 L358.21,53.52 L359.71,53.50 L361.21,53.49 L362.71,53.49 L364.21,53.48 L365.70,53.47 L367.20,53.47 L368.70,53.46 L370.20,53.45 L371.70,53.45 L373.19,53.44 L374.69,53.44 L376.19,53.43 L377.69,53.43 L379.19,53.42 L380.69,53.42 L382.18,53.41 L383.68,53.41 L385.18,53.40 L386.68,53.40 L388.18,53.39 L389.67,53.39 L391.17,53.39 L392.67,53.38 L394.17,53.38 L395.67,53.38 L397.17,53.37 L398.66,53.37 L400.16,53.37 L401.66,53.37 L403.16,53.36 L404.66,53.36 L406.16,53.36 L407.65,53.35 L409.15,53.35 L410.65,53.35 L412.15,53.35 L413.65,53.35 L415.15,53.34 L416.64,53.34 L418.14,53.34 L419.64,53.34 L421.14,53.34 L422.64,53.33 L424.14,53.33 L425.63,53.33 L427.13,53.33 L428.63,53.33 L430.13,53.33 L431.63,53.32 L433.13,53.32 L434.62,53.32 L436.12,53.32 L437.62,53.32 L439.12,53.31 L440.62,53.31 L442.12,53.31 L443.61,53.31 L445.11,53.31 L446.61,53.30 L448.11,53.30 L449.61,53.30 L451.10,53.30 L452.60,53.30 L454.10,53.29 L455.60,53.29 L457.10,53.29 L458.60,53.29 L460.09,53.29 L461.59,53.28 L463.09,53.28 L464.59,53.28 L466.09,53.28 L467.59,53.27 L469.08,53.27 L470.58,53.27 L472.08,53.27 L473.58,53.27 L475.08,53.26 L476.58,53.26 L478.07,53.26 L479.57,53.26 L481.07,53.26 L482.57,53.26 L484.07,53.25 L485.56,53.25 L487.06,53.25 L488.56,53.25 L490.06,53.25 L491.56,53.24 L493.06,53.24 L494.55,53.24 L496.05,53.24 L497.55,53.24 L499.05,53.24 L500.55,53.23 L502.05,53.23 L503.54,53.23 L505.04,53.23 L506.54,53.23 L508.04,53.23 L509.54,53.22 L511.04,53.22 L512.53,53.22 L514.03,53.22 L515.53,53.22 L517.03,53.22 L518.53,53.22 L520.02,53.21 L521.52,53.21 L523.02,53.21 L524.52,53.21 L526.02,53.21 L527.52,53.21 L529.01,53.21 L530.51,53.21 L532.01,53.21 L533.51,53.20 L535.01,53.20 L536.51,53.20 L538.00,53.20 L539.48,53.20 L540.96,53.20 L541.50,53.20" stroke="#ff00ff" stroke-width="1.65" fill="none" stroke-linejoin="round" clip-path="url(#cr)"/>
<rect x="306.5" y="5.3" width="234.80" height="199.60" fill="none" stroke="#7a7a7a" stroke-width="1.15"/>
<line x1="306.50" y1="204.9" x2="306.50" y2="202.4" stroke="#7a7a7a" stroke-width="1.15"/>
<line x1="306.50" y1="5.3" x2="306.50" y2="7.8" stroke="#7a7a7a" stroke-width="1.15"/>
<line x1="353.46" y1="204.9" x2="353.46" y2="202.4" stroke="#7a7a7a" stroke-width="1.15"/>
<line x1="353.46" y1="5.3" x2="353.46" y2="7.8" stroke="#7a7a7a" stroke-width="1.15"/>
<line x1="400.42" y1="204.9" x2="400.42" y2="202.4" stroke="#7a7a7a" stroke-width="1.15"/>
<line x1="400.42" y1="5.3" x2="400.42" y2="7.8" stroke="#7a7a7a" stroke-width="1.15"/>
<line x1="447.38" y1="204.9" x2="447.38" y2="202.4" stroke="#7a7a7a" stroke-width="1.15"/>
<line x1="447.38" y1="5.3" x2="447.38" y2="7.8" stroke="#7a7a7a" stroke-width="1.15"/>
<line x1="494.34" y1="204.9" x2="494.34" y2="202.4" stroke="#7a7a7a" stroke-width="1.15"/>
<line x1="494.34" y1="5.3" x2="494.34" y2="7.8" stroke="#7a7a7a" stroke-width="1.15"/>
<line x1="541.30" y1="204.9" x2="541.30" y2="202.4" stroke="#7a7a7a" stroke-width="1.15"/>
<line x1="541.30" y1="5.3" x2="541.30" y2="7.8" stroke="#7a7a7a" stroke-width="1.15"/>
<line x1="306.5" y1="204.90" x2="309.0" y2="204.90" stroke="#7a7a7a" stroke-width="1.15"/>
<line x1="541.3" y1="204.90" x2="538.8" y2="204.90" stroke="#7a7a7a" stroke-width="1.15"/>
<line x1="306.5" y1="138.37" x2="309.0" y2="138.37" stroke="#7a7a7a" stroke-width="1.15"/>
<line x1="541.3" y1="138.37" x2="538.8" y2="138.37" stroke="#7a7a7a" stroke-width="1.15"/>
<line x1="306.5" y1="71.83" x2="309.0" y2="71.83" stroke="#7a7a7a" stroke-width="1.15"/>
<line x1="541.3" y1="71.83" x2="538.8" y2="71.83" stroke="#7a7a7a" stroke-width="1.15"/>
<line x1="306.5" y1="5.30" x2="309.0" y2="5.30" stroke="#7a7a7a" stroke-width="1.15"/>
<line x1="541.3" y1="5.30" x2="538.8" y2="5.30" stroke="#7a7a7a" stroke-width="1.15"/>
<text x="306.50" y="215.10" text-anchor="middle" class="tk2" font-size="7.0">0</text>
<text x="353.46" y="215.10" text-anchor="middle" class="tk2" font-size="7.0">40</text>
<text x="400.42" y="215.10" text-anchor="middle" class="tk2" font-size="7.0">80</text>
<text x="447.38" y="215.10" text-anchor="middle" class="tk2" font-size="7.0">120</text>
<text x="494.34" y="215.10" text-anchor="middle" class="tk2" font-size="7.0">160</text>
<text x="541.30" y="215.10" text-anchor="middle" class="tk2" font-size="7.0">200</text>
<text x="303.00" y="207.90" text-anchor="end" class="tk2" font-size="7.0">28</text>
<text x="303.00" y="141.37" text-anchor="end" class="tk2" font-size="7.0">29</text>
<text x="303.00" y="74.83" text-anchor="end" class="tk2" font-size="7.0">30</text>
<text x="303.00" y="8.30" text-anchor="end" class="tk2" font-size="7.0">31</text>
<rect x="418.5" y="93.1" width="95.1" height="97.1" fill="#fff" stroke="#747474" stroke-width="1.15"/>
<line x1="425.9" y1="105.90" x2="442" y2="105.90" stroke="#ff0000" stroke-width="1.6"/>
<text transform="translate(443.80,111.66) scale(1.1,1)" class="lg" font-size="16.0">Lily</text>
<line x1="425.9" y1="129.90" x2="442" y2="129.90" stroke="#00ff00" stroke-width="1.6"/>
<text transform="translate(443.80,135.66) scale(1.1,1)" class="lg" font-size="16.0">Agaric</text>
<line x1="425.9" y1="153.90" x2="442" y2="153.90" stroke="#0000ff" stroke-width="1.6"/>
<text transform="translate(443.80,159.66) scale(1.1,1)" class="lg" font-size="16.0">Corn</text>
<line x1="425.9" y1="177.90" x2="442" y2="177.90" stroke="#ff00ff" stroke-width="1.6"/>
<text transform="translate(443.80,183.66) scale(1.1,1)" class="lg" font-size="16.0">Flowers</text>
<text transform="translate(91.40,226.90) scale(0.97,1)" class="al" font-size="15.6">Iteration number</text>
<text transform="translate(359.80,230.90) scale(1.08,1)" class="al" font-size="16.3">Iteration number</text>
<text transform="translate(12.3,142.6) rotate(-90)" class="al" font-size="15.8">PSNR (dB)</text>
<text transform="translate(292.6,145.9) rotate(-90) scale(1,1.07)" class="al" font-size="16.5">PSNR (dB)</text>
<text transform="translate(139.20,258.30) scale(1.07,1)" class="cap" font-size="19.3">(a)</text>
<text transform="translate(413.60,258.30) scale(1.04,1)" class="cap" font-size="19.3">(b)</text>
</svg>
</body></html>
